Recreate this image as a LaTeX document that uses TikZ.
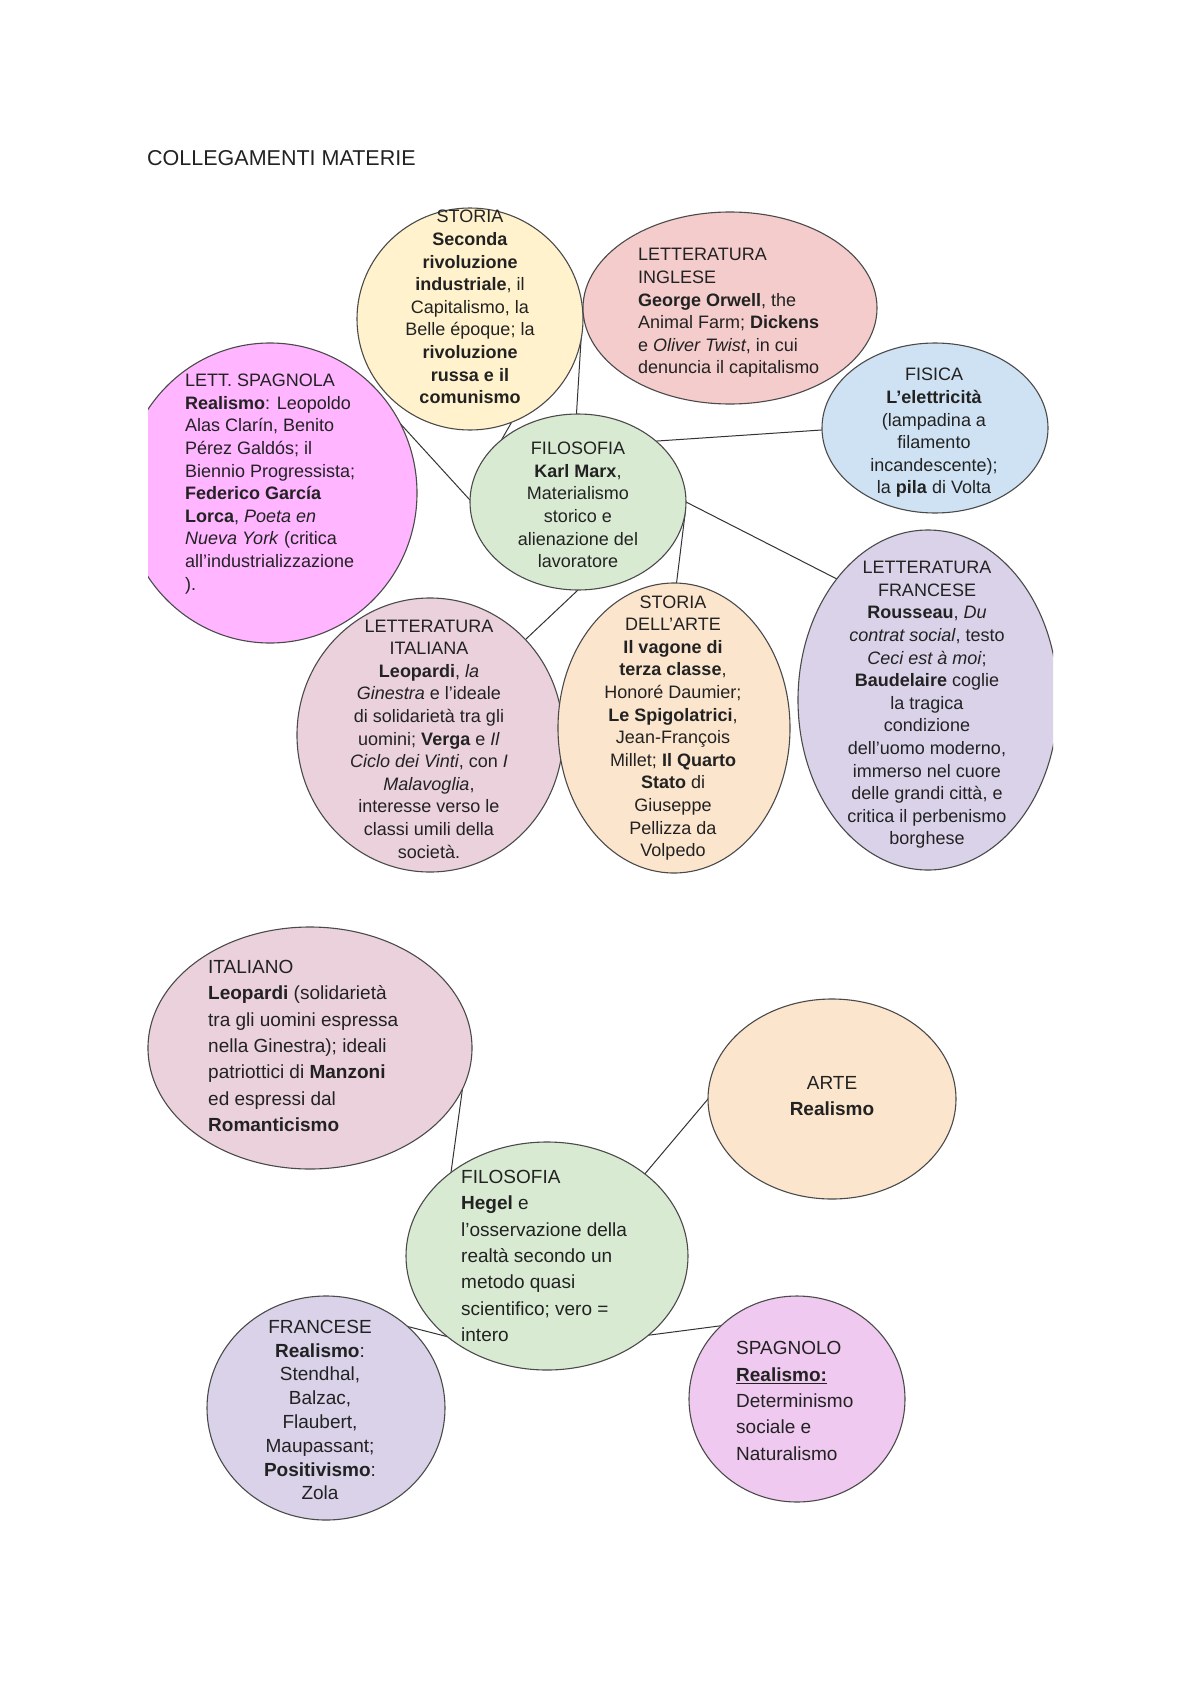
\documentclass[tikz,border=0pt]{standalone}
\usepackage{fontspec}
\setmainfont{Liberation Sans}
\usetikzlibrary{shapes.geometric}
\definecolor{cyel}{HTML}{FFF2CC}
\definecolor{cpink}{HTML}{F4CCCC}
\definecolor{cblue}{HTML}{CFE2F3}
\definecolor{cmag}{HTML}{FFB5FF}
\definecolor{cgreen}{HTML}{D9EAD3}
\definecolor{cmauve}{HTML}{EAD1DC}
\definecolor{corange}{HTML}{FCE5CD}
\definecolor{clav}{HTML}{D9D2E9}
\definecolor{cviol}{HTML}{EFC9EF}
\definecolor{bordc}{HTML}{4A4A4A}
\definecolor{linec}{HTML}{333333}
\definecolor{textc}{HTML}{222222}
\pgfdeclarelayer{paper}
\pgfdeclarelayer{lines}
\pgfsetlayers{paper,lines,main}
\tikzset{
  bub/.style={ellipse, draw=bordc, line width=1.1pt, inner sep=0pt, outer sep=0pt},
  conn/.style={draw=linec, line width=1pt},
  txt/.style={inner sep=0pt, text=textc, font=\fontsize{18}{22.6}\selectfont},
  txtb/.style={inner sep=0pt, text=textc, font=\fontsize{19}{26.4}\selectfont},
}
\begin{document}
\begin{tikzpicture}[x=1pt,y=-1pt]
\useasboundingbox (0,0) rectangle (1200,1694);
\begin{pgfonlayer}{paper}
\fill[white] (0,0) rectangle (1200,1694);
\end{pgfonlayer}

\node[anchor=base west, inner sep=0pt, text=textc, font=\fontsize{21.5}{25}\selectfont] (title) at (147,165) {COLLEGAMENTI MATERIE};

% ---------- top diagram ----------
\begin{scope}
\clip (148,170) rectangle (1053,900);
\node[bub, fill=cyel, minimum width=226, minimum height=222] (storia) at (470,319) {};
\node[bub, fill=cpink, minimum width=294, minimum height=192] (ingl) at (730,308) {};
\node[bub, fill=cblue, minimum width=226, minimum height=170] (fis) at (935,428) {};
\node[bub, fill=cmag, minimum width=294, minimum height=300] (spag) at (270,493) {};
\node[bub, fill=cgreen, minimum width=216, minimum height=176] (filo) at (578,502) {};
\node[bub, fill=cmauve, minimum width=266, minimum height=274] (ital) at (430,735) {};
\node[bub, fill=corange, minimum width=232, minimum height=290] (arte) at (674,728) {};
\node[bub, fill=clav, minimum width=260, minimum height=340] (franc) at (928,700) {};
\end{scope}

\begin{pgfonlayer}{lines}
\draw[conn] (storia.-68) -- (filo.141);
\draw[conn] (ingl.180) -- (filo.91);
\draw[conn] (filo.38) -- (fis.181);
\draw[conn] (spag.28) -- (filo.179);
\draw[conn] (filo.0) -- (franc.127);
\draw[conn] (filo.-5) -- (arte.89);
\draw[conn] (filo.-90) -- (ital.45);
\end{pgfonlayer}

\node[txt, align=center] (storiat) at (470,307) {STORIA\\\textbf{Seconda}\\\textbf{rivoluzione}\\\textbf{industriale}, il\\Capitalismo, la\\Belle époque; la\\\textbf{rivoluzione}\\\textbf{russa e il}\\\textbf{comunismo}};
\node[txt, align=left, anchor=west] (inglt) at (638,313) {LETTERATURA\\INGLESE\\\textbf{George Orwell}, the\\Animal Farm; \textbf{Dickens}\\e \textit{Oliver Twist}, in cui\\denuncia il capitalismo};
\node[txt, align=center] (fist) at (934,433) {FISICA\\\textbf{L’elettricità}\\(lampadina a\\filamento\\incandescente);\\la \textbf{pila} di Volta};
\node[txt, align=left, anchor=west] (spagt) at (185,484) {LETT. SPAGNOLA\\\textbf{Realismo}: Leopoldo\\Alas Clarín, Benito\\Pérez Galdós; il\\Biennio Progressista;\\\textbf{Federico García}\\\textbf{Lorca}, \textit{Poeta en}\\\textit{Nueva York} (critica\\all’industrializzazione\\).};
\node[txt, align=center] (filot) at (578,505) {FILOSOFIA\\\textbf{Karl Marx},\\Materialismo\\storico e\\alienazione del\\lavoratore};
\node[txt, align=center] (italt) at (429,739) {LETTERATURA\\ITALIANA\\\textbf{Leopardi}, \textit{la}\\\textit{Ginestra} e l’ideale\\di solidarietà tra gli\\uomini; \textbf{Verga} e \textit{Il}\\\textit{Ciclo dei Vinti}, con \textit{I}\\\textit{Malavoglia},\\interesse verso le\\classi umili della\\società.};
\node[txt, align=center] (artet) at (673,728) {STORIA\\DELL’ARTE\\\textbf{Il vagone di}\\\textbf{terza classe},\\Honoré Daumier;\\\textbf{Le Spigolatrici},\\Jean-François\\Millet; \textbf{Il Quarto}\\\textbf{Stato} di\\Giuseppe\\Pellizza da\\Volpedo};
\node[txt, align=center] (franct) at (927,705) {LETTERATURA\\FRANCESE\\\textbf{Rousseau}, \textit{Du}\\\textit{contrat social}, testo\\\textit{Ceci est à moi};\\\textbf{Baudelaire} coglie\\la tragica\\condizione\\dell'uomo moderno,\\immerso nel cuore\\delle grandi città, e\\critica il perbenismo\\borghese};

% ---------- bottom diagram ----------
\node[bub, fill=cmauve, minimum width=324, minimum height=242] (itao) at (310,1048) {};
\node[bub, fill=cgreen, minimum width=282, minimum height=228] (heg) at (547,1256) {};
\node[bub, fill=corange, minimum width=248, minimum height=200] (arteb) at (832,1099) {};
\node[bub, fill=clav, minimum width=238, minimum height=224] (franb) at (326,1408) {};
\node[bub, fill=cviol, minimum width=216, minimum height=206] (spagb) at (797,1399) {};

\begin{pgfonlayer}{lines}
\draw[conn] (itao.-15) -- (heg.139);
\draw[conn] (heg.40) -- (arteb.180);
\draw[conn] (franb.45) -- (heg.219);
\draw[conn] (heg.-38) -- (spagb.136);
\end{pgfonlayer}

\node[txtb, align=left, anchor=west] (itaot) at (208,1046) {ITALIANO\\\textbf{Leopardi} (solidarietà\\tra gli uomini espressa\\nella Ginestra); ideali\\patriottici di \textbf{Manzoni}\\ed espressi dal\\\textbf{Romanticismo}};
\node[txtb, align=left, anchor=west] (hegt) at (461,1256) {FILOSOFIA\\\textbf{Hegel} e\\l’osservazione della\\realtà secondo un\\metodo quasi\\scientifico; vero =\\intero};
\node[txtb, align=center] (artebt) at (832,1096) {ARTE\\\textbf{Realismo}};
\node[inner sep=0pt, text=textc, font=\fontsize{19}{23.8}\selectfont, align=center] (franbt) at (320,1410) {FRANCESE\\\textbf{Realismo}:\\Stendhal,\\Balzac,\\Flaubert,\\Maupassant;\\\textbf{Positivismo}:\\Zola};
\node[txtb, align=left, anchor=west] (spagbt) at (736,1401) {SPAGNOLO\\\textbf{\underline{Realismo:}}\\Determinismo\\sociale e\\Naturalismo};
\end{tikzpicture}
\end{document}
